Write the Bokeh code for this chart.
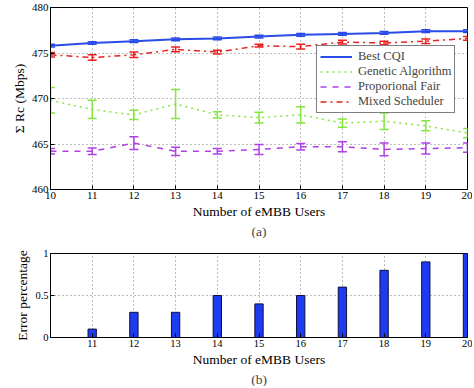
from bokeh.plotting import figure
from bokeh.layouts import column
from bokeh.models import ColumnDataSource, Whisker, TeeHead, Title, FixedTicker
from bokeh.embed import file_html
from bokeh.resources import INLINE

# ---- data (top chart) ----
users = [10, 11, 12, 13, 14, 15, 16, 17, 18, 19, 20]
cqi = [475.8, 476.1, 476.3, 476.5, 476.6, 476.8, 477.0, 477.1, 477.2, 477.4, 477.4]
cqi_err = [0.15, 0.15, 0.15, 0.15, 0.15, 0.15, 0.15, 0.15, 0.15, 0.15, 0.15]
ga = [469.8, 468.8, 468.2, 469.4, 468.2, 467.9, 468.2, 467.3, 467.5, 467.0, 466.2]
ga_err = [1.4, 1.0, 0.5, 1.6, 0.35, 0.6, 0.9, 0.45, 0.9, 0.55, 0.5]
pf = [464.2, 464.2, 465.1, 464.2, 464.2, 464.4, 464.7, 464.7, 464.4, 464.5, 464.6]
pf_err = [0.3, 0.35, 0.7, 0.45, 0.3, 0.55, 0.35, 0.55, 0.7, 0.6, 0.5]
mix = [474.8, 474.5, 474.8, 475.4, 475.1, 475.8, 475.7, 476.2, 476.1, 476.3, 476.6]
mix_err = [0.25, 0.3, 0.3, 0.25, 0.2, 0.15, 0.25, 0.2, 0.2, 0.25, 0.2]
series_names = ["Best CQI", "Genetic Algorithm", "Proporional Fair", "Mixed Scheduler"]
y_ticks_top = [460, 465, 470, 475, 480]

# ---- data (bottom chart) ----
err_users = [11, 12, 13, 14, 15, 16, 17, 18, 19, 20]
err_pct = [0.1, 0.3, 0.3, 0.5, 0.4, 0.5, 0.6, 0.8, 0.9, 1.0]
y_ticks_bot = [0, 0.5, 1]

FONT = "Liberation Serif"


def style(p):
    p.outline_line_color = "black"
    p.outline_line_width = 1
    p.background_fill_color = "white"
    p.border_fill_color = "white"
    for ax in p.axis:
        ax.major_tick_in = 4
        ax.major_tick_out = 0
        ax.minor_tick_line_color = None
        ax.axis_line_color = "black"
        ax.major_label_text_font = FONT
        ax.major_label_text_font_size = "11px"
        ax.major_label_text_color = "black"
        ax.axis_label_text_font = FONT
        ax.axis_label_text_font_style = "normal"
        ax.axis_label_text_font_size = "13.5px"
        ax.axis_label_text_color = "black"
        ax.axis_label_standoff = 2
        ax.major_label_standoff = 2
    for g in p.grid:
        g.grid_line_color = "#444444"
        g.grid_line_dash = "1 3"
        g.grid_line_alpha = 0.7


# ---------- top chart ----------
p1 = figure(width=472, height=238, x_range=(10, 20), y_range=(460, 480),
            output_backend="svg", toolbar_location=None,
            min_border_left=50, min_border_right=5, min_border_top=7, min_border_bottom=5)
p1.xaxis.ticker = FixedTicker(ticks=users)
p1.yaxis.ticker = FixedTicker(ticks=y_ticks_top)
p1.xaxis.axis_label = "Number of eMBB Users"
p1.yaxis.axis_label = "Σ Rc (Mbps)"

specs = [
    (cqi, cqi_err, "#2a4ce8", "solid", 2),
    (ga, ga_err, "#82e63c", "dotted", 1.5),
    (pf, pf_err, "#b040e6", "dashed", 1.5),
    (mix, mix_err, "#e82020", "dashdot", 1.5),
]
for (vals, errs, col, dash, lw), name in zip(specs, series_names):
    src = ColumnDataSource(dict(
        x=users, y=vals,
        lo=[v - e for v, e in zip(vals, errs)],
        hi=[v + e for v, e in zip(vals, errs)]))
    p1.line("x", "y", source=src, line_color=col, line_width=lw,
            line_dash=dash, legend_label=name)
    w = Whisker(base="x", lower="lo", upper="hi", source=src,
                line_color=col, line_width=1.5,
                upper_head=TeeHead(size=9, line_color=col, line_width=1.5),
                lower_head=TeeHead(size=9, line_color=col, line_width=1.5))
    p1.add_layout(w)

lg = p1.legend[0]
lg.location = (266, 76)
lg.border_line_color = "black"
lg.border_line_width = 1
lg.background_fill_color = "white"
lg.background_fill_alpha = 1
lg.label_text_font = FONT
lg.label_text_font_size = "12.5px"
lg.label_text_line_height = 1.0
lg.label_height = 13
lg.glyph_height = 13
lg.glyph_width = 32
lg.label_standoff = 6
lg.spacing = 0
lg.padding = 3
lg.margin = 0

t1 = Title(text="(a)", align="center", text_font=FONT, text_font_size="13.5px",
           text_font_style="normal", standoff=0)
p1.add_layout(t1, "below")
style(p1)

# ---------- bottom chart ----------
p2 = figure(width=472, height=148, x_range=(10, 20), y_range=(0, 1),
            output_backend="svg", toolbar_location=None,
            min_border_left=45, min_border_right=5, min_border_top=15, min_border_bottom=5)
p2.vbar(x=err_users, top=err_pct, width=0.2, bottom=0,
        fill_color="#1d3cf0", line_color="#101040", line_width=1)
p2.xaxis.ticker = FixedTicker(ticks=err_users)
p2.yaxis.ticker = FixedTicker(ticks=y_ticks_bot)
p2.yaxis.major_label_overrides = {0: "0", 0.5: "0.5", 1: "1"}
p2.xaxis.axis_label = "Number of eMBB Users"
p2.yaxis.axis_label = "Error percentage"
t2 = Title(text="(b)", align="center", text_font=FONT, text_font_size="13.5px",
           text_font_style="normal", standoff=0)
p2.add_layout(t2, "below")
style(p2)
p2.xaxis.major_label_text_font_size = "10.5px"
p2.yaxis.major_label_text_font_size = "10.5px"

layout = column(p1, p2, spacing=0)
open("out.html", "w").write(file_html(layout, INLINE))
